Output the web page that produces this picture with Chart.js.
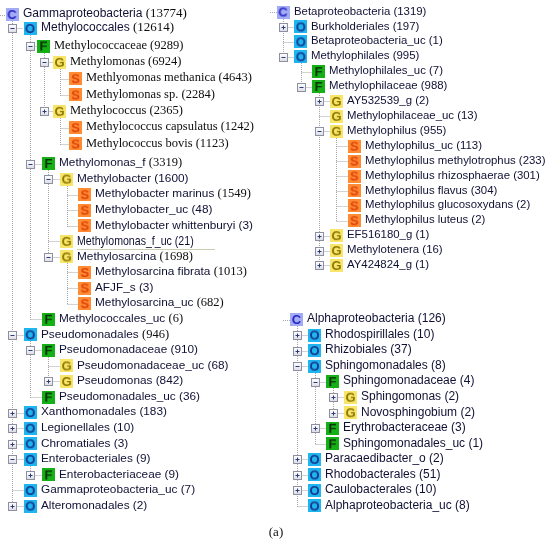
<!DOCTYPE html>
<html>
<head>
<meta charset="utf-8">
<script src="https://cdn.jsdelivr.net/npm/chart.js@4.4.1/dist/chart.umd.min.js"></script>
<style>
  html, body { margin: 0; padding: 0; background: #fff; }
  canvas { display: block; }
</style>
</head>
<body>
<canvas id="taxonomyTree" width="550" height="545"></canvas>
<script>
// Gammaproteobacteria panel, top to bottom
const gammaRanks = ["C","O","F","G","S","S","G","S","S","F","G","S","S","S","G","G","S","S","S","F","O","F","G","G","F","O","O","O","O","F","O","O"];
const gammaNames = [
  "Gammaproteobacteria", "Methylococcales", "Methylococcaceae", "Methylomonas",
  "Methlyomonas methanica", "Methylomonas sp.", "Methylococcus", "Methylococcus capsulatus",
  "Methylococcus bovis", "Methylomonas_f", "Methylobacter", "Methylobacter marinus",
  "Methylobacter_uc", "Methylobacter whittenburyi", "Methylomonas_f_uc", "Methylosarcina",
  "Methylosarcina fibrata", "AFJF_s", "Methylosarcina_uc", "Methylococcales_uc",
  "Pseudomonadales", "Pseudomonadaceae", "Pseudomonadaceae_uc", "Pseudomonas",
  "Pseudomonadales_uc", "Xanthomonadales", "Legionellales", "Chromatiales",
  "Enterobacteriales", "Enterobacteriaceae", "Gammaproteobacteria_uc", "Alteromonadales"
];
const gammaCounts = [13774, 12614, 9289, 6924, 4643, 2284, 2365, 1242, 1123, 3319, 1600, 1549, 48, 3, 21, 1698, 1013, 3, 682, 6, 946, 910, 68, 842, 36, 183, 10, 3, 9, 9, 7, 2];
const gammaDepths = [0, 1, 2, 3, 4, 4, 3, 4, 4, 2, 3, 4, 4, 4, 3, 3, 4, 4, 4, 2, 1, 2, 3, 3, 2, 1, 1, 1, 1, 2, 1, 1];
const gammaToggles = ["", "-", "-", "-", "", "", "+", "", "", "-", "-", "", "", "", "", "-", "", "", "", "", "-", "-", "", "+", "", "+", "+", "+", "-", "+", "", "+"];

// Betaproteobacteria panel
const betaRanks = ["C","O","O","O","F","F","G","G","G","S","S","S","S","S","S","G","G","G"];
const betaNames = [
  "Betaproteobacteria", "Burkholderiales", "Betaproteobacteria_uc", "Methylophilales",
  "Methylophilales_uc", "Methylophilaceae", "AY532539_g", "Methylophilaceae_uc",
  "Methylophilus", "Methylophilus_uc", "Methylophilus methylotrophus", "Methylophilus rhizosphaerae",
  "Methylophilus flavus", "Methylophilus glucosoxydans", "Methylophilus luteus", "EF516180_g",
  "Methylotenera", "AY424824_g"
];
const betaCounts = [1319, 197, 1, 995, 7, 988, 2, 13, 955, 113, 233, 301, 304, 2, 2, 1, 16, 1];
const betaDepths = [0, 1, 1, 1, 2, 2, 3, 3, 3, 4, 4, 4, 4, 4, 4, 3, 3, 3];
const betaToggles = ["", "+", "", "-", "", "-", "+", "", "-", "", "", "", "", "", "", "+", "+", "+"];

// Alphaproteobacteria panel
const alphaRanks = ["C","O","O","O","F","G","G","F","F","O","O","O","O"];
const alphaNames = [
  "Alphaproteobacteria", "Rhodospirillales", "Rhizobiales", "Sphingomonadales",
  "Sphingomonadaceae", "Sphingomonas", "Novosphingobium", "Erythrobacteraceae",
  "Sphingomonadales_uc", "Paracaedibacter_o", "Rhodobacterales", "Caulobacterales",
  "Alphaproteobacteria_uc"
];
const alphaCounts = [126, 10, 37, 8, 4, 2, 2, 3, 1, 2, 51, 10, 8];
const alphaDepths = [0, 1, 1, 1, 2, 3, 3, 2, 2, 1, 1, 1, 1];
const alphaToggles = ["", "+", "+", "-", "-", "+", "+", "+", "", "+", "+", "+", ""];

const caption = "(a)";

const trees = [
  { ranks: gammaRanks, names: gammaNames, counts: gammaCounts, depths: gammaDepths, toggles: gammaToggles },
  { ranks: betaRanks, names: betaNames, counts: betaCounts, depths: betaDepths, toggles: betaToggles },
  { ranks: alphaRanks, names: alphaNames, counts: alphaCounts, depths: alphaDepths, toggles: alphaToggles }
];

const W = 550, H = 545;
const ICON = 13, GAP = 4;
const SANS = "'Liberation Sans', Arial, sans-serif";
const SERIF = "'Liberation Serif', 'Times New Roman', serif";

// the screenshot is stitched from a few pieces, each with its own indent and row pitch
const blocks = [
  { tree: 0, from: 0, to: 1, x0: 12, dx: 18, y0: 14.5, dy: 14, font: "12px " + SANS, countFont: "13px " + SERIF },
  { tree: 0, from: 2, to: 8, x0: 11.5, dx: 16, y0: 46 - 2 * 16.33, dy: 16.33, font: "12.5px " + SERIF, countFont: "12.5px " + SERIF },
  { tree: 0, from: 9, to: 31, x0: 12, dx: 18.2, y0: 163.5 - 9 * 15.57, dy: 15.57, font: "11.8px " + SANS, countFont: null },
  { tree: 1, from: 0, to: 17, x0: 283, dx: 17.8, y0: 12, dy: 14.91, font: "11.4px " + SANS, countFont: null },
  { tree: 2, from: 0, to: 12, x0: 296.5, dx: 18, y0: 319.5, dy: 15.54, font: "12px " + SANS, countFont: null }
];
const serifCountRows = [9, 11, 15, 16, 18, 19, 20];  // gamma rows whose counts are in a serif face
const narrowRow = 14;                                 // Methylomonas_f_uc, condensed face + underline

const iconColors = {
  C: ["#a3abf5", "#2626c2"],
  O: ["#1fb5f0", "#163a8c"],
  F: ["#15b015", "#0b2e0b"],
  G: ["#fae56b", "#8a7800"],
  S: ["#ff8b32", "#e0420c"]
};

function makeIcon(rank) {
  const c = document.createElement("canvas");
  c.width = ICON; c.height = ICON;
  const g = c.getContext("2d");
  g.fillStyle = iconColors[rank][0];
  g.fillRect(0, 0, ICON, ICON);
  g.fillStyle = iconColors[rank][1];
  g.font = "bold 13px " + SANS;
  g.textAlign = "center";
  g.textBaseline = "middle";
  g.fillText(rank, ICON / 2, ICON / 2 + 1);
  return c;
}
const icons = {};
Object.keys(iconColors).forEach(r => icons[r] = makeIcon(r));

function parentOf(tree, i) {
  for (let k = i - 1; k >= 0; k--) {
    if (tree.depths[k] === tree.depths[i] - 1) return k;
  }
  return -1;
}

function pixelPositions(chart) {
  const pos = trees.map(() => []);
  blocks.forEach((b, k) => {
    chart.getDatasetMeta(k).data.forEach((el, j) => {
      pos[b.tree][b.from + j] = { x: el.x, y: el.y };
    });
  });
  return pos;
}

const treePlugin = {
  id: "treeDecor",
  beforeDatasetsDraw(chart) {
    const ctx = chart.ctx;
    const pos = pixelPositions(chart);
    ctx.save();
    ctx.strokeStyle = "#a6a6a6";
    ctx.lineWidth = 1;
    ctx.setLineDash([1, 1]);
    trees.forEach((tree, t) => {
      const p = pos[t];
      const lastChild = {};
      tree.depths.forEach((d, i) => {
        const y = Math.round(p[i].y) + 0.5;
        const left = Math.round(p[i].x - ICON / 2);
        let from;
        if (d === 0) {
          from = left - 7;
        } else {
          const par = parentOf(tree, i);
          lastChild[par] = i;
          from = Math.round(p[par].x) + 0.5;
        }
        ctx.beginPath();
        ctx.moveTo(from, y);
        ctx.lineTo(left, y);
        ctx.stroke();
      });
      Object.keys(lastChild).forEach(par => {
        const x = Math.round(p[par].x) + 0.5;
        ctx.beginPath();
        ctx.moveTo(x, Math.round(p[par].y + ICON / 2));
        ctx.lineTo(x, Math.round(p[lastChild[par]].y) + 1);
        ctx.stroke();
      });
    });
    ctx.setLineDash([]);
    // expand / collapse boxes sit on the parent's guide line
    trees.forEach((tree, t) => {
      const p = pos[t];
      tree.toggles.forEach((sign, i) => {
        if (!sign) return;
        const par = parentOf(tree, i);
        const cx = Math.round(p[par].x) + 0.5;
        const cy = Math.round(p[i].y) + 0.5;
        const grad = ctx.createLinearGradient(0, cy - 4, 0, cy + 4);
        grad.addColorStop(0, "#ffffff");
        grad.addColorStop(1, "#dcdce6");
        ctx.fillStyle = grad;
        ctx.fillRect(cx - 4, cy - 4, 8, 8);
        ctx.strokeStyle = "#8e90a2";
        ctx.strokeRect(cx - 4, cy - 4, 8, 8);
        ctx.strokeStyle = "#2c3c78";
        ctx.beginPath();
        ctx.moveTo(cx - 2, cy); ctx.lineTo(cx + 2, cy);
        if (sign === "+") { ctx.moveTo(cx, cy - 2); ctx.lineTo(cx, cy + 2); }
        ctx.stroke();
      });
    });
    ctx.restore();
  },
  afterDatasetsDraw(chart) {
    const ctx = chart.ctx;
    ctx.save();
    ctx.textBaseline = "middle";
    blocks.forEach((b, k) => {
      const tree = trees[b.tree];
      chart.getDatasetMeta(k).data.forEach((el, j) => {
        const row = b.from + j;
        const x = Math.round(el.x + ICON / 2 + GAP);
        const y = el.y - 0.5;
        const label = tree.names[row];
        const count = "(" + tree.counts[row] + ")";
        if (b.tree === 0 && row === narrowRow) {
          // condensed face: squeeze a regular face horizontally
          ctx.save();
          ctx.translate(x, y);
          ctx.scale(0.78, 1);
          ctx.font = "13.6px " + SANS;
          ctx.fillStyle = "#101034";
          ctx.fillText(label + " " + count, 0, 0);
          ctx.restore();
          ctx.strokeStyle = "#c9cdb2";
          ctx.lineWidth = 1;
          ctx.beginPath();
          ctx.moveTo(x, Math.round(y + 8) + 0.5);
          ctx.lineTo(x + 138, Math.round(y + 8) + 0.5);
          ctx.stroke();
          return;
        }
        let countFont = b.countFont || b.font;
        if (b.tree === 0 && serifCountRows.includes(row)) countFont = "12.5px " + SERIF;
        ctx.font = b.font;
        ctx.fillStyle = b.font.includes("Serif") ? "#0d0d0d" : "#101034";
        ctx.fillText(label, x, y);
        const x2 = x + ctx.measureText(label + " ").width;
        ctx.font = countFont;
        ctx.fillStyle = countFont.includes("Serif") ? "#0d0d0d" : "#101034";
        ctx.fillText(count, x2, y);
      });
    });
    const area = chart.chartArea;
    ctx.fillStyle = "#111111";
    ctx.font = "13px " + SERIF;
    ctx.textAlign = "center";
    ctx.fillText(caption, (area.left + area.right) / 2 + 1, area.bottom - 12);
    ctx.restore();
  }
};

const scales = { x: { display: false }, y: { display: false } };
blocks.forEach((b, k) => {
  scales["x" + k] = { type: "linear", display: false, bounds: "data", min: -b.x0 / b.dx, max: (W - b.x0) / b.dx };
  scales["y" + k] = { type: "linear", display: false, bounds: "data", reverse: true, min: -b.y0 / b.dy, max: (H - b.y0) / b.dy };
});

const datasets = blocks.map((b, k) => {
  const tree = trees[b.tree];
  const data = [];
  for (let row = b.from; row <= b.to; row++) {
    data.push({ x: tree.depths[row], y: row, rank: tree.ranks[row] });
  }
  return {
    data: data,
    xAxisID: "x" + k,
    yAxisID: "y" + k,
    pointStyle: c => icons[c.raw ? c.raw.rank : "C"],
    pointRadius: 6,
    clip: false
  };
});

new Chart(document.getElementById("taxonomyTree"), {
  type: "scatter",
  data: { datasets: datasets },
  options: {
    responsive: false,
    animation: false,
    events: [],
    layout: { padding: 0, autoPadding: false },
    plugins: {
      legend: { display: false },
      tooltip: { enabled: false }
    },
    scales: scales
  },
  plugins: [treePlugin]
});
</script>
</body>
</html>
